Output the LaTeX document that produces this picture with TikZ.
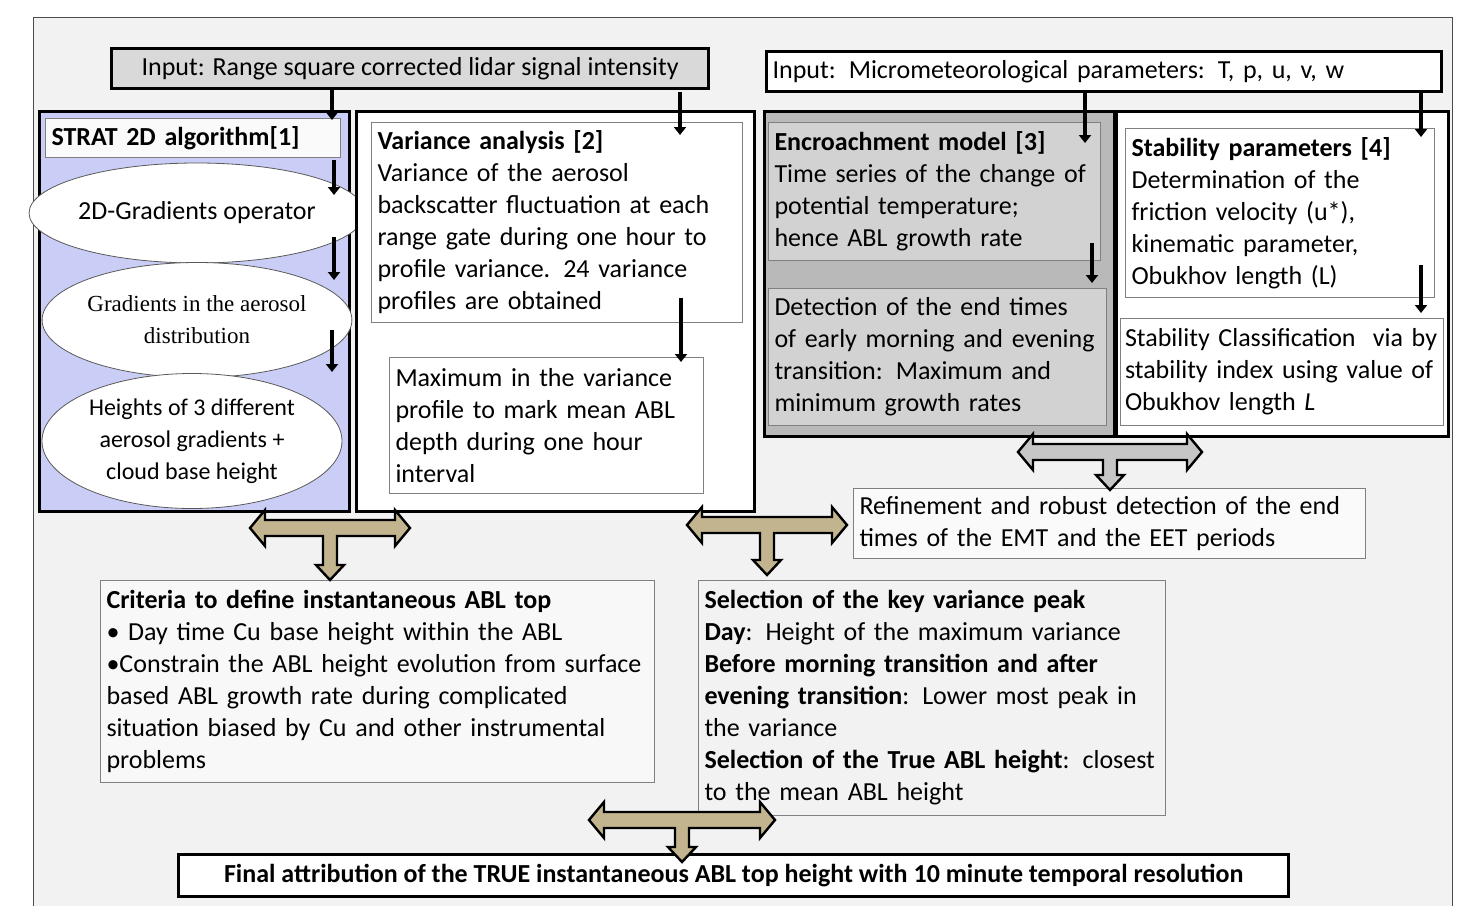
\documentclass[tikz,border=0pt]{standalone}
\usepackage{fontspec}
\setmainfont{Carlito}
\newfontfamily\serifed{Liberation Serif}
\usetikzlibrary{arrows.meta,shapes.geometric}
\definecolor{bgray}{HTML}{F2F2F2}
\definecolor{stratblue}{HTML}{CACEF6}
\definecolor{khaki}{HTML}{C2B48E}
\newcommand{\tarrow}[5]{% x, y, half width, bottom, fill
  \draw[line width=1.2pt, fill=#5] ({#1-#3},#2) -- ({#1-#3+15},{#2-18}) -- ({#1-#3+15},{#2-8})
    -- ({#1+#3-15},{#2-8}) -- ({#1+#3-15},{#2-18}) -- ({#1+#3},#2) -- ({#1+#3-15},{#2+18})
    -- ({#1+#3-15},{#2+8}) -- ({#1+7},{#2+8}) -- ({#1+7},{#4-15}) -- ({#1+14},{#4-15})
    -- (#1,#4) -- ({#1-14},{#4-15}) -- ({#1-7},{#4-15}) -- ({#1-7},{#2+8})
    -- ({#1-#3+15},{#2+8}) -- ({#1-#3+15},{#2+18}) -- cycle;}
\newcommand{\spread}[1]{\makebox[\linewidth][s]{#1}}
\begin{document}
\begin{tikzpicture}[
	x=0.5pt, y=-0.5pt,
	font=\fontsize{13}{16}\selectfont,
	frame/.style={
		shape=rectangle,
		draw,
		line width=1.6pt,
		anchor=north west,
		inner sep=0pt,
	},
	box/.style={
		shape=rectangle,
		draw=gray,
		line width=0.5pt,
		anchor=north west,
		inner sep=3pt,
		align=left,
	},
	oval/.style={
		shape=ellipse,
		draw=gray!70!black,
		fill=white,
		inner sep=0pt,
		align=center,
	},
	blk/.style={
		line width=2pt,
		-{Triangle[width=6pt,length=4pt]},
	},
]
\useasboundingbox (0,0) rectangle (1467,905);
% background sheet
\draw[draw=gray!60!black, fill=bgray] (33,17) rectangle (1452,915);

\node (lidar) [frame, fill=gray!30, minimum width=298.5pt, minimum height=20pt] at (110,47) {Input: Range square corrected lidar signal intensity};
\node (micro) [frame, fill=white, minimum width=337.5pt, minimum height=20pt, text width=331.5pt, align=left, inner sep=3pt] at (765,50) {Input: Micrometeorological parameters: T, p, u, v, w};

% STRAT 2D column
\node (strat) [frame, fill=stratblue, minimum width=155pt, minimum height=200pt] at (38,110) {};
\node (strat title) [box, fill=white!60!bgray, minimum width=147.5pt, minimum height=19.5pt, text width=141.5pt] at (45,118) {\textbf{STRAT 2D algorithm[1]}};
\node (grad op) [oval, minimum width=142.5pt, minimum height=50pt] at (197,213) {2D-Gradients operator};
\node (grad aer) [oval, minimum width=145pt, minimum height=57.5pt, font=\serifed\fontsize{11.5}{16}\selectfont] at (197,320) {Gradients in the aerosol\\distribution};
\node (heights) [oval, minimum width=150pt, minimum height=67.5pt, font=\fontsize{12}{16}\selectfont] at (192,441) {Heights of 3 different\\aerosol gradients +\\cloud base height};

% variance column
\node (var) [frame, fill=white, minimum width=199pt, minimum height=200pt] at (355,110) {};
\node (var text) [box, fill=white, minimum width=185.5pt, minimum height=100pt, text width=179.5pt] at (371,122) {\textbf{Variance analysis [2]}\\Variance of the aerosol\\backscatter fluctuation at each\\range gate during one hour to\\profile variance. 24 variance\\profiles are obtained};
\node (var max) [box, fill=white, minimum width=157pt, minimum height=68pt, text width=151pt] at (389,357) {\spread{Maximum in the variance}\\\spread{profile to mark mean ABL}\\\spread{depth during one hour}\\interval};

% encroachment column
\node (enc) [frame, fill=gray!55, minimum width=175pt, minimum height=162.5pt] at (763,110) {};
\node (enc rate) [box, fill=gray!35, minimum width=166pt, minimum height=69pt, text width=160pt] at (768,122) {\textbf{Encroachment model [3]}\\Time series of the change of\\potential temperature;\\hence ABL growth rate};
\node (enc times) [box, fill=gray!35, minimum width=169pt, minimum height=68.5pt, text width=163pt] at (768,288) {Detection of the end times\\of early morning and evening\\transition: Maximum and\\minimum growth rates};

% stability column
\node (stab) [frame, fill=white, minimum width=166pt, minimum height=162.5pt] at (1115,110) {};
\node (stab par) [box, fill=white, minimum width=154.5pt, minimum height=84.5pt, text width=148.5pt] at (1125,128) {\textbf{Stability parameters [4]}\\Determination of the\\friction velocity (u*),\\kinematic parameter,\\Obukhov length (L)};
\node (stab class) [box, fill=white, minimum width=161.5pt, minimum height=53.5pt, text width=157pt, inner sep=2pt] at (1120,318) {Stability Classification\ \ via by\\stability index using value of\\Obukhov length \textit{L}};

% lower boxes
\node (refine) [box, fill=white!60!bgray, minimum width=256pt, minimum height=35pt, text width=250pt] at (853,488) {Refinement and robust detection of the end\\times of the EMT and the EET periods};
\node (criteria) [box, fill=white!50!bgray, minimum width=277pt, minimum height=101pt, text width=271pt] at (100,580) {\textbf{Criteria to define instantaneous ABL top}\\\textbullet\ Day time Cu base height within the ABL\\\textbullet Constrain the ABL height evolution from surface\\based ABL growth rate during complicated\\situation biased by Cu and other instrumental\\problems};
\node (select) [box, fill=bgray, minimum width=233.5pt, minimum height=117.5pt, text width=227.5pt] at (698,580) {\textbf{Selection of the key variance peak}\\\textbf{Day}: Height of the maximum variance\\\textbf{Before morning transition and after}\\\textbf{evening transition}: Lower most peak in\\the variance\\\textbf{Selection of the True ABL height}: closest\\to the mean ABL height};
\node (final) [frame, fill=white, minimum width=555pt, minimum height=21pt, font=\fontsize{13}{16}\selectfont] at (177,853) {\textbf{Final attribution of the TRUE instantaneous ABL top height with 10 minute temporal resolution}};

% short black arrows
\foreach \i/\x/\ya/\yb in {1/332/88/120, 2/680/92/135, 3/334/160/195, 4/334/237/280,
	5/332/330/372, 6/681/298/362, 7/1085/93/143, 8/1421/93/137, 9/1092/243/283, 10/1421/265/313} {
	\coordinate (from\i) at (\x,\ya);
	\coordinate (to\i) at (\x,\yb);
	\draw[blk] (from\i) -- (to\i);
}

% block arrows
\tarrow{1110}{452}{92}{490}{gray!45}
\tarrow{330}{528}{80}{580}{khaki}
\tarrow{767}{525}{80}{575}{khaki}
\tarrow{682}{820}{93}{862}{khaki}
\end{tikzpicture}
\end{document}
